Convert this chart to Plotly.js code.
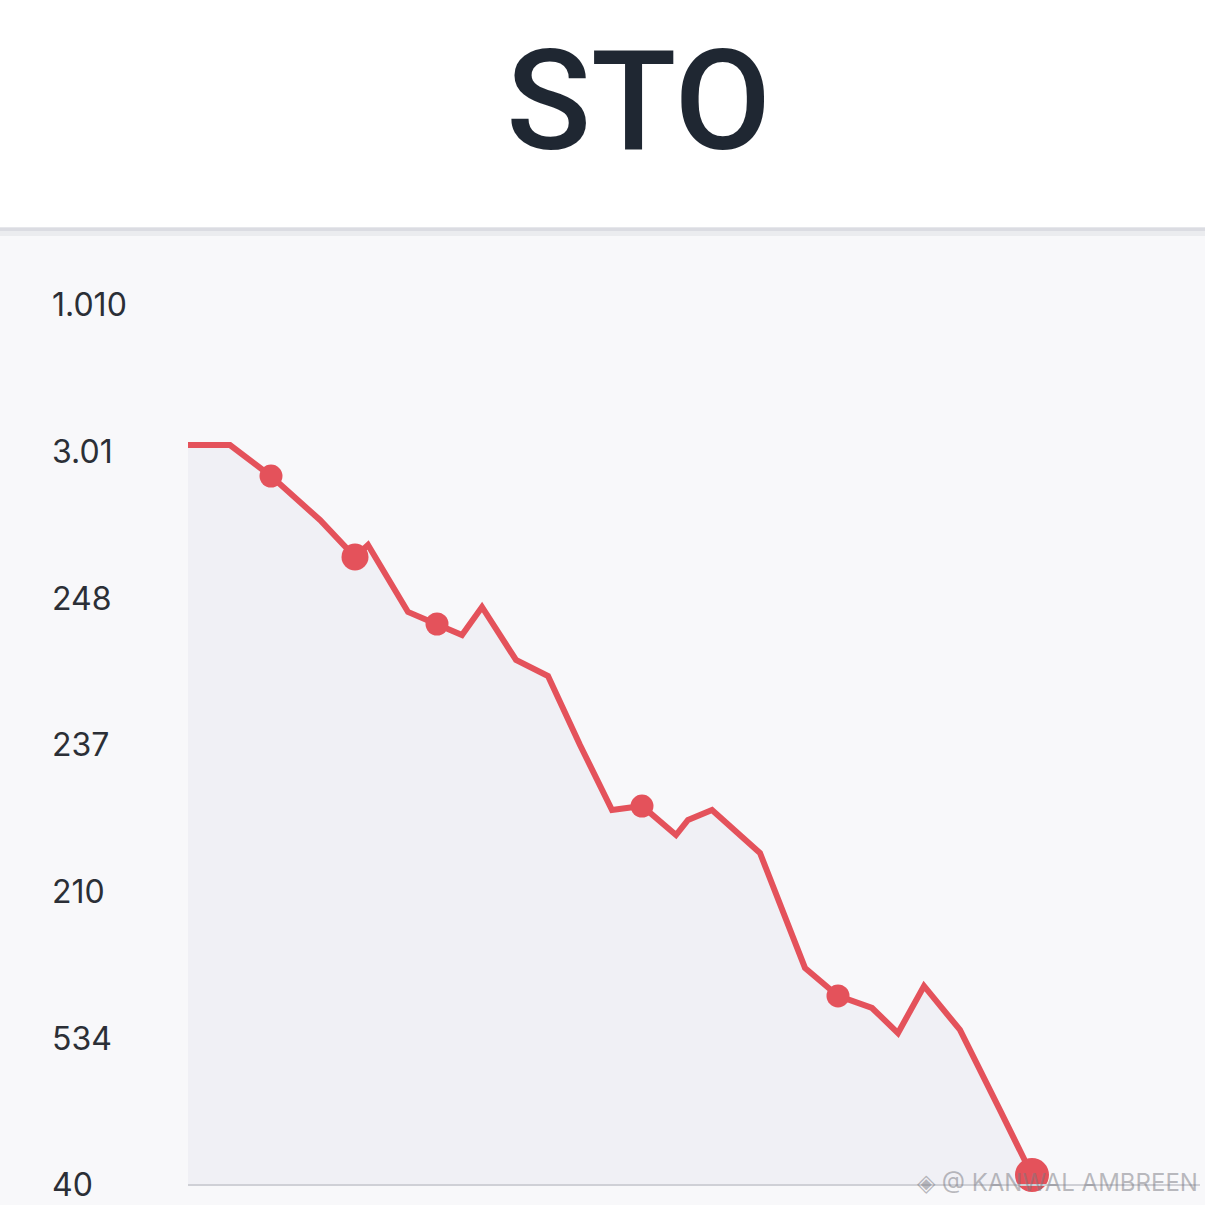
<!DOCTYPE html>
<html>
<head>
<meta charset="utf-8">
<script src="https://cdn.plot.ly/plotly-3.0.1.min.js"></script>
<style>
html,body{margin:0;padding:0;background:#f8f8fa;}
#chart{width:1205px;height:1205px;}
</style>
</head>
<body>
<div id="chart"></div>
<script>
// Data (x: time step, y: price on the axis scale)
var xValues = [0, 4.2, 8.3, 13.2, 16.7, 18, 22, 24.9, 27.4, 29.4, 32.8, 36, 39.2, 42.4, 45.4, 48.8, 50, 52.4, 57.2, 61.7, 65, 68.4, 71, 73.6, 77.2, 81.2, 84.4];
var yValues = [504.5, 504.5, 483.4, 453.4, 428.2, 436.4, 390.7, 382.5, 375, 394.1, 358, 347, 300, 255.7, 258.4, 238.6, 248.9, 255.7, 226.4, 148, 128.9, 120.7, 103.6, 135.7, 105.7, 51.1, 6.8];
var markerIdx = [2, 4, 7, 14, 20, 26];
var markerSizes = [23, 27, 23, 23, 23, 34];
var tickVals = [0, 100, 200, 300, 400, 500, 600];
var tickText = ["40", "534", "210", "237", "248", "3.01", "1.010"];
var titleText = "STO";
var watermark = "◈ @ KANWAL AMBREEN";

var mx = markerIdx.map(function(i){return xValues[i];});
var my = markerIdx.map(function(i){return yValues[i];});

var red = "#e4525b";

var traces = [
  {
    x: xValues, y: yValues, type: "scatter", mode: "lines",
    line: {color: red, width: 6},
    fill: "tozeroy", fillcolor: "rgba(228,228,238,0.4)",
    hoverinfo: "skip"
  },
  {
    x: mx, y: my, type: "scatter", mode: "markers",
    marker: {color: red, size: markerSizes, opacity: 1, line: {width: 0}},
    opacity: 1,
    hoverinfo: "skip"
  }
];

var W = 1205, H = 1205;
var layout = {
  width: W, height: H,
  paper_bgcolor: "#f8f8fa",
  plot_bgcolor: "rgba(0,0,0,0)",
  showlegend: false,
  margin: {l: 0, r: 5, t: 250, b: 0},
  title: {
    text: titleText,
    font: {family: "Roboto", size: 140, color: "#1f2732", weight: 500},
    x: 0.53, xanchor: "center",
    y: 0.917, yanchor: "middle"
  },
  xaxis: {
    domain: [188/1200, 1],
    range: [0, 101.2],
    showgrid: false, zeroline: false, showline: false,
    showticklabels: false, ticks: ""
  },
  yaxis: {
    anchor: "free", position: 0.04,
    range: [-13.64, 637.5],
    tickvals: tickVals, ticktext: tickText,
    ticklabelposition: "inside",
    tickfont: {family: "Inter", size: 32, color: "#2b2f36", weight: 400},
    showgrid: false, showline: false, ticks: "",
    zeroline: false
  },
  shapes: [
    {type: "rect", xref: "paper", yref: "paper", x0: -0.01, x1: 1.01, y0: 1 + 22/955, y1: 1 + 260/955,
     fillcolor: "#ffffff", line: {width: 0}, layer: "below"},
    {type: "rect", xref: "paper", yref: "paper", x0: -0.01, x1: 1.01, y0: 1 + 14/955, y1: 1 + 22/955,
     fillcolor: "rgba(205,207,214,0.3)", line: {width: 0}, layer: "below"},
    {type: "rect", xref: "paper", yref: "paper", x0: -0.01, x1: 1.01, y0: 1 + 19/955, y1: 1 + 23/955,
     fillcolor: "rgba(200,202,210,0.45)", line: {width: 0}, layer: "below"},
    {type: "line", xref: "x domain", yref: "y", x0: 0, x1: 1, y0: 0, y1: 0,
     line: {color: "#cfd0d6", width: 2}}
  ],
  annotations: [
    {text: watermark, xref: "paper", yref: "y", x: 1.0, y: 2, xanchor: "right", yanchor: "middle",
     showarrow: false, font: {family: "Inter", size: 24, color: "rgba(120,120,128,0.5)"}}
  ]
};

Plotly.newPlot("chart", traces, layout, {displayModeBar: false, staticPlot: true});
</script>
</body>
</html>
